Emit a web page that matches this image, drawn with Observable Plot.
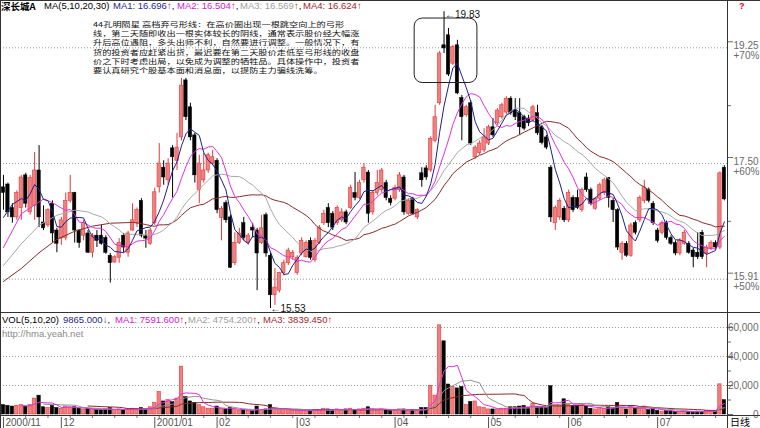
<!DOCTYPE html>
<html><head><meta charset="utf-8">
<script src="https://cdn.jsdelivr.net/npm/d3@7"></script>
<script src="https://cdn.jsdelivr.net/npm/@observablehq/plot@0.6"></script>
<style>
html,body{margin:0;padding:0;background:#fff;}
body{width:760px;height:428px;overflow:hidden;position:relative;font-family:"Liberation Sans",Arial,sans-serif;}
.abs{position:absolute;}
.hdr{position:absolute;font-size:9.5px;line-height:12px;white-space:nowrap;}
.up{color:#e00000;}
.line{position:absolute;background:#333;}
#note{position:absolute;left:93px;top:20px;font-family:"Noto Sans CJK SC",sans-serif;font-size:9.2px;line-height:13px;color:#111;white-space:nowrap;transform:scaleY(0.705);transform-origin:0 0;}
</style></head><body>
<div id="main" class="abs" style="left:0;top:0"></div>
<div id="vol" class="abs" style="left:0;top:312px"></div>
<div id="date" class="abs" style="left:0;top:415px"></div>

<div class="line" style="left:0;top:0;width:760px;height:1px"></div>
<div class="line" style="left:0;top:312px;width:760px;height:1px"></div>
<div class="line" style="left:0;top:415px;width:760px;height:1px"></div>
<div class="line" style="left:0;top:0;width:1px;height:428px"></div>
<div class="line" style="left:727px;top:0;width:1px;height:428px"></div>

<div class="hdr" style="left:1px;top:0;font-family:'Noto Sans CJK SC';font-weight:bold;font-size:9.5px">深长城A</div>
<div class="hdr" style="left:44px;top:0">MA(5,10,20,30)</div>
<div class="hdr" style="left:113px;top:0"><span style="color:#1f1f8f">MA1: 16.696</span><span class="up">↑</span>,</div>
<div class="hdr" style="left:177px;top:0"><span style="color:#d020d0">MA2: 16.504</span><span class="up">↑</span>,</div>
<div class="hdr" style="left:240px;top:0"><span style="color:#a0a0a0">MA3: 16.569</span><span class="up">↑</span>,</div>
<div class="hdr" style="left:303px;top:0"><span style="color:#a02828">MA4: 16.624</span><span class="up">↑</span></div>
<div class="hdr" style="left:739px;top:0;color:#e00000;font-weight:bold;font-size:9px">?</div>

<div id="note">44孔明陨星 高档弃弓形线：在高价圈出现一根跳空向上的弓形<br>线，第二天随即收出一根实体较长的阴线，通常表示股价经大幅涨<br>升后高位遇阻，多头出师不利，自然要进行调整。一般情况下，有<br>货的投资者应赶紧出货，最迟要在第二天股价走低至弓形线的收盘<br>价之下时考虑出局，以免成为调整的牺牲品。具体操作中，投资者<br>要认真研究个股基本面和消息面，以提防主力骗线洗筹。</div>

<div class="hdr" style="left:2px;top:314px">VOL(5,10,20)</div>
<div class="hdr" style="left:63px;top:314px"><span style="color:#1f1f8f">9865.000</span><span style="color:#206020">↓</span>,</div>
<div class="hdr" style="left:115px;top:314px"><span style="color:#d020d0">MA1: 7591.600</span><span class="up">↑</span>,</div>
<div class="hdr" style="left:188px;top:314px"><span style="color:#a0a0a0">MA2: 4754.200</span><span class="up">↑</span>,</div>
<div class="hdr" style="left:263px;top:314px"><span style="color:#a02828">MA3: 3839.450</span><span class="up">↑</span></div>
<div class="hdr" style="left:2px;top:328px;color:#8a8a8a">http://hma.yeah.net</div>
<div class="hdr" style="left:730px;top:415px;font-family:'Noto Sans CJK SC';font-size:10px;line-height:13px;color:#000">日线</div>

<script>
// ---- daily prices ----
const open = [17.16,17.20,16.87,16.74,16.87,17.33,16.81,16.90,17.40,16.67,
16.63,16.93,16.56,16.45,16.46,16.97,17.08,16.56,16.49,16.52,
16.26,16.49,16.49,16.46,16.22,16.13,16.19,16.49,16.26,16.56,
16.66,16.97,16.48,16.38,16.66,17.16,17.44,17.26,17.72,17.54,
17.88,18.74,18.33,17.91,17.12,17.26,17.40,17.50,17.54,16.73,
16.94,16.74,16.12,16.39,16.66,16.39,16.60,16.56,16.39,16.77,
16.22,15.70,15.76,15.99,16.12,16.20,15.99,16.25,16.20,16.42,
16.16,16.39,16.66,16.87,16.79,16.66,16.70,16.81,16.87,17.08,
17.01,17.26,17.37,16.81,17.08,17.12,17.22,17.00,17.00,17.12,
17.30,16.79,17.00,16.74,17.36,17.43,17.40,17.83,18.39,19.29,
19.45,19.00,19.29,18.47,18.21,18.39,17.59,17.65,17.69,17.79,
18.03,18.09,18.18,18.25,18.46,18.28,18.24,18.18,18.16,18.13,
18.24,18.03,17.88,17.44,16.66,16.74,16.86,16.70,17.01,17.01,
16.84,17.30,17.12,16.86,17.00,17.08,17.29,16.97,16.84,16.26,
16.38,16.22,16.66,16.70,16.97,17.12,16.93,16.56,16.53,16.66,
16.46,16.39,16.25,16.38,16.38,16.29,16.26,16.53,16.25,16.32,
16.39,16.33,17.44];
const high = [17.33,17.22,16.93,17.11,17.33,17.36,17.33,17.66,17.76,16.90,
16.86,16.97,16.59,16.74,17.08,17.33,17.09,16.57,16.70,16.56,
16.52,16.56,16.63,16.49,16.25,16.22,16.45,16.52,16.55,16.93,
16.87,17.00,16.56,16.59,17.15,17.79,17.54,17.57,17.76,17.94,
18.77,18.77,18.39,17.94,17.62,17.65,17.65,17.69,17.57,16.89,
16.97,16.77,16.53,16.59,16.74,16.52,16.66,16.59,16.77,16.80,
16.25,16.05,16.00,16.16,16.32,16.29,16.22,16.46,16.42,16.46,
16.45,16.63,16.84,16.93,16.82,16.90,16.86,16.84,17.19,17.37,
17.26,17.50,17.40,17.12,17.40,17.43,17.26,17.04,17.19,17.37,
17.33,17.00,17.02,16.86,17.44,17.47,17.89,18.36,19.19,19.83,
19.56,19.29,19.37,18.51,18.36,18.43,17.76,17.83,18.01,18.06,
18.16,18.31,18.39,18.49,18.49,18.46,18.46,18.21,18.21,18.36,
18.36,18.06,17.91,17.47,16.90,17.00,16.89,17.12,17.04,17.12,
17.15,17.36,17.15,17.02,17.22,17.29,17.30,17.00,16.86,16.41,
16.41,16.66,16.69,17.04,17.26,17.15,16.96,16.59,16.69,16.69,
16.49,16.42,16.45,16.56,16.41,16.32,16.53,16.56,16.36,16.42,
16.42,17.38,17.47];
const low = [16.84,16.74,16.66,16.70,16.70,16.87,16.77,16.70,16.60,16.56,
16.60,16.39,16.26,16.36,16.42,16.94,16.39,16.32,16.42,16.25,
16.19,16.33,16.36,16.24,15.86,16.12,16.12,16.26,16.20,16.55,
16.60,16.46,16.32,16.36,16.63,17.08,17.19,17.19,17.01,17.40,
17.83,18.13,17.83,17.22,16.93,17.22,17.36,17.47,16.79,16.42,
16.66,16.05,16.09,16.37,16.42,16.36,16.46,15.76,16.37,16.20,
15.53,15.57,15.73,15.95,16.09,16.16,15.96,16.22,16.19,16.16,
16.13,16.37,16.63,16.60,16.56,16.63,16.67,16.64,16.85,16.97,
16.99,17.22,16.66,16.77,17.04,17.08,16.97,16.90,16.97,17.09,
16.77,16.77,16.77,16.71,17.16,17.26,17.37,17.80,18.36,19.16,
18.80,18.97,18.52,17.83,18.18,17.76,17.56,17.62,17.66,17.76,
17.88,18.06,18.15,18.22,18.21,18.13,17.91,17.98,18.04,18.12,
17.91,17.77,17.70,16.67,16.56,16.70,16.67,16.67,16.81,16.85,
16.81,17.09,16.90,16.84,16.97,17.04,16.87,16.67,16.29,16.16,
16.20,16.20,16.50,16.67,16.93,16.94,16.63,16.39,16.50,16.43,
16.36,16.22,16.22,16.36,16.24,16.06,16.17,16.17,16.06,16.29,
16.30,16.30,16.97];
const close = [17.08,16.81,16.74,17.08,17.30,16.93,17.29,17.40,16.74,16.59,
16.84,16.52,16.38,16.70,16.97,17.08,16.56,16.39,16.66,16.26,
16.49,16.42,16.38,16.26,16.12,16.20,16.39,16.33,16.52,16.70,
16.84,16.49,16.45,16.56,17.09,17.50,17.30,17.50,17.59,17.73,
18.66,18.18,17.88,17.33,17.50,17.40,17.62,17.59,16.84,16.86,
16.70,16.06,16.39,16.52,16.46,16.49,16.56,16.25,16.59,16.25,
15.70,15.80,15.99,16.12,16.29,16.26,16.19,16.42,16.39,16.19,
16.42,16.60,16.79,16.66,16.60,16.87,16.81,16.67,17.15,17.01,
17.22,17.44,16.79,17.08,17.22,17.40,17.01,16.94,17.15,17.33,
16.81,16.97,16.79,16.84,17.26,17.30,17.86,18.18,19.16,19.24,
18.83,19.26,18.54,18.18,18.33,17.79,17.73,17.79,17.88,18.03,
17.91,18.28,18.36,18.46,18.24,18.18,18.03,18.01,18.09,18.33,
17.94,17.80,17.73,16.74,16.87,16.97,16.70,17.08,16.84,16.87,
17.12,17.12,16.93,17.00,17.19,17.26,17.01,16.84,16.33,16.38,
16.22,16.63,16.53,17.01,17.16,16.97,16.66,16.42,16.66,16.46,
16.38,16.25,16.42,16.53,16.26,16.20,16.20,16.20,16.33,16.39,
16.33,17.36,16.99];
const volume = [6500,6000,5500,6000,6500,5500,6500,11000,13000,5000,
4500,6000,4500,4000,5500,5000,5000,4000,3500,4000,
3500,3000,3000,3500,4500,3000,3500,3000,3500,4000,
3500,4500,3500,5000,8000,15500,9000,10000,8500,11000,
33000,12000,9000,8000,6500,5000,4000,4000,5500,4000,
3500,4500,3000,2500,3000,2500,2500,5500,3000,3500,
6500,4000,3000,3000,3000,2500,2500,3000,2500,2500,
3000,3000,4000,3500,3000,3500,3000,3500,4000,3000,
3500,4000,5000,3500,3000,3500,3000,2500,3000,3500,
3500,2500,3000,2500,4500,4500,19800,13000,61500,50500,
20700,19000,18000,19000,6500,8700,9000,5000,4500,3500,
3500,3500,4000,4000,5000,5000,5500,6000,4500,7500,
5000,5000,4500,19500,6000,6000,10500,7000,6000,6000,
6000,5500,4000,3500,4500,4000,5000,4500,8000,4500,
3500,5500,4000,4000,5500,3000,4000,2500,2000,2500,
2200,1800,1800,2000,1900,1800,2000,1900,2400,2500,
2400,20800,9865];

const ma5LeadIdx = [0,2],            ma5LeadVal = [16.74,16.92];
const ma10LeadIdx = [0,4],           ma10LeadVal = [16.33,16.79];
const ma20LeadIdx = [0,4,8,12,16],   ma20LeadVal = [16.09,16.38,16.63,16.77,16.84];
const ma30LeadIdx = [0,4,8,12,16,20,24], ma30LeadVal = [15.88,16.05,16.26,16.44,16.55,16.62,16.66];

// axis ticks
const priceTicks = [15.91,17.50,19.25];
const pctText = ["+50%","+60%","+70%"];
const volTicks = [0,20000,40000,60000];
const monthTickIdx = [0,13,34,48,66,88,109,127,147];
const monthTickText = ["2000/11","12","2001/01","02","03","04","05","06","07"];

// annotation box (candle index range and price range)
const boxCandles = [93,106];
const boxPrices = [18.70,19.72];

// ---- build ----
const N = close.length;
const candles = close.map((c,i)=>({i,o:open[i],h:high[i],l:low[i],c,v:volume[i],up:c>open[i]}));
const ups = candles.filter(d=>d.up), downs = candles.filter(d=>!d.up);

function maSeries(arr,n,leadIdx,leadVal){
  const pts = leadIdx.map((x,k)=>({i:x,v:leadVal[k]}));
  arr.forEach((_,i)=>{ if(i>=n-1) pts.push({i,v:d3.mean(arr.slice(i-n+1,i+1))}); });
  return pts;
}
function maStrict(arr,n){
  const pts=[]; arr.forEach((_,i)=>{ if(i>=n-1) pts.push({i,v:d3.mean(arr.slice(i-n+1,i+1))}); }); return pts;
}
const C_MA1="#1f1f8f", C_MA2="#dd33dd", C_MA3="#a8a8a8", C_MA4="#8a2a2a";
const RED_FILL="#f08080", RED_STROKE="#e03a3a";

const xDomain=[-0.67, N-0.3];
const halfW=0.38;
const style={fontFamily:"Liberation Sans, Arial, sans-serif",fontSize:"10px",overflow:"visible",background:"transparent"};

const hiIdx = d3.maxIndex(high), loIdx = d3.minIndex(low);
const pctMap = new Map(priceTicks.map((t,k)=>[t,pctText[k]]));
const minorPrice = d3.pairs(priceTicks).map(([a,b])=>Math.sqrt(a*b));

const mainChart = Plot.plot({
  width:760, height:312, marginLeft:0, marginRight:33, marginTop:0, marginBottom:0,
  style,
  x:{domain:xDomain, axis:null},
  y:{type:"log", domain:[15.479,20.015]},
  marks:[
    Plot.ruleY(priceTicks,{stroke:"#9a9a9a",strokeDasharray:"1,2"}),
    Plot.ruleX(downs,{x:"i",y1:"l",y2:"h",stroke:"#000",strokeWidth:1}),
    Plot.ruleX(ups,{x:"i",y1:"l",y2:"h",stroke:RED_STROKE,strokeWidth:1}),
    Plot.rect(downs,{x1:d=>d.i-halfW,x2:d=>d.i+halfW,y1:"o",y2:"c",fill:"#000",stroke:"#000",strokeWidth:0.5}),
    Plot.rect(ups,{x1:d=>d.i-halfW,x2:d=>d.i+halfW,y1:"o",y2:"c",fill:RED_FILL,stroke:RED_STROKE,strokeWidth:0.6}),
    Plot.line(maSeries(close,30,ma30LeadIdx,ma30LeadVal),{x:"i",y:"v",stroke:C_MA4,strokeWidth:1}),
    Plot.line(maSeries(close,20,ma20LeadIdx,ma20LeadVal),{x:"i",y:"v",stroke:C_MA3,strokeWidth:1}),
    Plot.line(maSeries(close,10,ma10LeadIdx,ma10LeadVal),{x:"i",y:"v",stroke:C_MA2,strokeWidth:1}),
    Plot.line(maSeries(close,5,ma5LeadIdx,ma5LeadVal),{x:"i",y:"v",stroke:C_MA1,strokeWidth:1}),
    Plot.rect([0],{x1:()=>boxCandles[0]-0.6,x2:()=>boxCandles[1]+0.5,y1:()=>boxPrices[0],y2:()=>boxPrices[1],fill:"none",stroke:"#222",strokeWidth:1,rx:8,ry:8}),
    Plot.text([candles[hiIdx]],{x:"i",y:"h",text:d=>"←"+d.h.toFixed(2),textAnchor:"start",dx:1,dy:3,fill:"#111",fontSize:10}),
    Plot.text([candles[loIdx]],{x:"i",y:"l",text:d=>"←"+d.l.toFixed(2),textAnchor:"start",dx:0,dy:0,fill:"#111",fontSize:10}),
    Plot.axisY(priceTicks,{anchor:"right",tickSize:5,tickPadding:1,label:null,tickFormat:d=>d.toFixed(2)+"\n"+pctMap.get(d),lineAnchor:"top",dy:-6,color:"#6a6a6a",fontSize:10}),
    Plot.axisY(minorPrice,{anchor:"right",tickSize:3,label:null,tickFormat:()=>"",color:"#6a6a6a"})
  ]
});
document.getElementById("main").append(mainChart);

const volChart = Plot.plot({
  width:760, height:103, marginLeft:0, marginRight:33, marginTop:0, marginBottom:1,
  style,
  x:{domain:xDomain, axis:null},
  y:{domain:[0,70345]},
  marks:[
    Plot.ruleY(volTicks.filter(v=>v>0),{stroke:"#9a9a9a",strokeDasharray:"1,2"}),
    Plot.rect(downs,{x1:d=>d.i-halfW,x2:d=>d.i+halfW,y1:0,y2:"v",fill:"#000",stroke:"#000",strokeWidth:0.5}),
    Plot.rect(ups,{x1:d=>d.i-halfW,x2:d=>d.i+halfW,y1:0,y2:"v",fill:RED_FILL,stroke:RED_STROKE,strokeWidth:0.6}),
    Plot.line(maStrict(volume,20),{x:"i",y:"v",stroke:C_MA4,strokeWidth:1}),
    Plot.line(maStrict(volume,10),{x:"i",y:"v",stroke:"#909090",strokeWidth:1}),
    Plot.line(maStrict(volume,5),{x:"i",y:"v",stroke:C_MA2,strokeWidth:1}),
    Plot.axisY(volTicks,{anchor:"right",tickSize:5,tickPadding:26,textAnchor:"end",label:null,color:"#6a6a6a",fontSize:10}),
    Plot.axisY(d3.range(10000,70000,20000),{anchor:"right",tickSize:3,label:null,tickFormat:()=>"",color:"#6a6a6a"})
  ]
});
document.getElementById("vol").append(volChart);

const weekTicks = d3.range(0,N,5).filter(i=>!monthTickIdx.includes(i));
const dateChart = Plot.plot({
  width:760, height:13, marginLeft:0, marginRight:33, marginTop:0, marginBottom:0,
  style,
  x:{domain:xDomain, axis:null},
  marks:[
    Plot.ruleX(weekTicks,{stroke:"#777",insetBottom:10}),
    Plot.ruleX(monthTickIdx,{stroke:"#555",insetTop:2}),
    Plot.text(monthTickIdx,{x:d=>d,text:(d,k)=>monthTickText[k],textAnchor:"start",dx:2,dy:1,frameAnchor:"middle",fill:"#555",fontSize:10})
  ]
});
document.getElementById("date").append(dateChart);
</script>
</body></html>
